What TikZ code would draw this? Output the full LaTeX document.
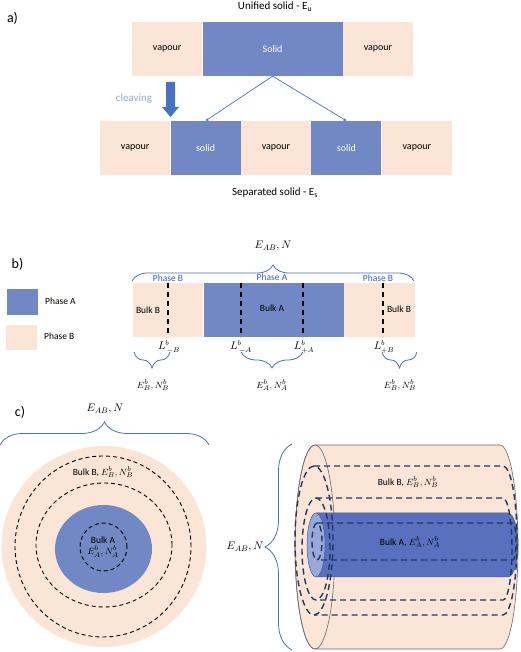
\documentclass[tikz,border=0pt]{standalone}
\usepackage{fontspec}
\setmainfont{Carlito}
\usepackage{amsmath}
\usepackage{xcolor}
\definecolor{phase-blue}{RGB}{113,136,196}
\definecolor{phase-pink}{RGB}{251,229,214}
\definecolor{accent-blue}{RGB}{68,114,196}
\definecolor{accent-light}{RGB}{143,170,220}
\definecolor{label-blue}{RGB}{62,94,168}
\definecolor{navy-dark}{RGB}{32,56,100}
\definecolor{core-blue}{RGB}{88,112,190}
\definecolor{core-face}{RGB}{150,168,220}
\definecolor{rim-gray}{RGB}{105,105,115}
\usetikzlibrary{positioning,decorations.pathreplacing,arrows.meta}

\begin{document}
\begin{tikzpicture}[
    x=1pt, y=1pt,
    every node/.style={inner sep=0pt},
    txt/.style={font=\fontsize{9.5}{11}\selectfont},
    sym/.style={font=\fontsize{10.5}{12}\selectfont},
    big/.style={font=\fontsize{11}{13}\selectfont},
    mathlbl/.style={font=\fontsize{11}{13}\selectfont},
    tag/.style={font=\fontsize{14}{16}\selectfont},
    cell/.style={minimum width=70pt, minimum height=54pt, font=\fontsize{10}{12}\selectfont},
    vapourcell/.style={cell, fill=phase-pink},
    solidcell/.style={cell, fill=phase-blue, text=white},
    slab/.style={minimum height=54pt, fill=#1},
    curly/.style={accent-blue, line width=0.8pt, decorate,
        decoration={brace, amplitude=#1}},
    cutline/.style={black, line width=1.6pt, dash pattern=on 5pt off 4pt},
    ringline/.style={black, line width=0.9pt, dash pattern=on 4pt off 3pt},
    tubeline/.style={navy-dark, line width=1.4pt, dash pattern=on 6pt off 4pt}
]
\useasboundingbox (0,0) rectangle (520,652);

% ---------- a) ----------
\node[tag] (tagA) at (12.5,634) {a)};
\node[big] (titleU) at (275,645.5) {Unified solid - E\textsubscript{u}};

% Unified row
\node[vapourcell, anchor=west] (vapTopL) at (132,603) {vapour};
\node[solidcell, minimum width=140pt, right=0pt of vapTopL] (solidTop) {Solid};
\node[vapourcell, right=0pt of solidTop] (vapTopR) {vapour};

% Separated row
\node[vapourcell, anchor=west] (vapBot1) at (100,504) {vapour};
\node[solidcell, right=0pt of vapBot1] (solidBot1) {solid};
\node[vapourcell, right=0pt of solidBot1] (vapBot2) {vapour};
\node[solidcell, right=0pt of vapBot2] (solidBot2) {solid};
\node[vapourcell, right=0pt of solidBot2] (vapBot3) {vapour};

\node[big] (titleS) at (275,459) {Separated solid - E\textsubscript{s}};

% Cleaving arrow
\fill[accent-blue] (166,570) -- (175,570) -- (175,545) -- (179,545)
    -- (170.5,535) -- (162,545) -- (166,545) -- cycle;
\node[big, text=accent-light] (cleave) at (134,553.5) {cleaving};

\draw[accent-blue, line width=0.7pt, -{Stealth[length=3pt,width=3pt]}]
    (solidTop.south) -- (solidBot1.north);
\draw[accent-blue, line width=0.7pt, -{Stealth[length=3pt,width=3pt]}]
    (solidTop.south) -- (solidBot2.north);

% ---------- b) ----------
\node[tag] (tagB) at (17.5,388) {b)};

% Legend
\node[fill=phase-blue, minimum width=31pt, minimum height=26pt] (keyA) at (22.5,350) {};
\node[txt, anchor=west] (keyAtext) at (45,351) {Phase A};
\node[fill=phase-pink, minimum width=31pt, minimum height=25pt] (keyB) at (21.5,314.5) {};
\node[txt, anchor=west] (keyBtext) at (44,316) {Phase B};

% Slab
\node[slab=phase-pink, minimum width=70pt, anchor=west] (slabBL) at (133,342) {};
\node[slab=phase-blue, minimum width=140pt, right=0pt of slabBL] (slabA) {};
\node[slab=phase-pink, minimum width=71pt, right=0pt of slabA] (slabBR) {};

\node[txt] (bulkBL) at (148,342) {Bulk B};
\node[txt] (bulkA) at (272,344) {Bulk A};
\node[txt] (bulkBR) at (399,343) {Bulk B};

\node[txt, text=label-blue] (phaseBL) at (168,374) {Phase B};
\node[txt, text=label-blue] (phaseA) at (272,375) {Phase A};
\node[txt, text=label-blue] (phaseBR) at (378,374) {Phase B};

% Dividing surfaces
\foreach \cx in {168,241,303,383}
    \draw[cutline] (\cx,369) -- (\cx,315);

\node[sym] (lowB) at (169,305) {$L^{b}_{\,-B}$};
\node[sym] (lowA) at (241,305) {$L^{b}_{\,-A}$};
\node[sym] (highA) at (304,305) {$L^{b}_{+A}$};
\node[sym] (highB) at (384,305) {$L^{b}_{+B}$};

% Braces
\draw[curly=16] (132,371) -- (414,371);
\node[mathlbl] (eSlab) at (273,406) {$E_{AB}, N$};

\draw[curly=16] (170,300) -- (134,300);
\draw[curly=16] (303,300) -- (241,300);
\draw[curly=16] (417,300) -- (382,300);
\node[txt] (eBL) at (153,267) {$E^b_B, N^b_B$};
\node[txt] (eA) at (272,267) {$E^b_A, N^b_A$};
\node[txt] (eBR) at (400,267) {$E^b_B, N^b_B$};

% ---------- c) ----------
\node[tag] (tagC) at (20,239.5) {c)};
\node[mathlbl] (eDisk) at (105,243) {$E_{AB}, N$};
\draw[curly=23] (0,207) -- (209,207);

% Disk
\fill[phase-pink] (104,105.5) ellipse (102.5 and 100.5);
\draw[ringline] (103,105.5) ellipse (88 and 90.5);
\draw[ringline] (104,107) ellipse (68 and 62);
\fill[phase-blue] (103.5,103) ellipse (48.5 and 44);
\draw[ringline] (103.5,105) ellipse (23.5 and 24);
\node[txt] (diskB) at (103,180) {Bulk B, $E^b_B, N^b_B$};
\node[txt, align=center] (diskA) at (103,105) {Bulk A\\$E^b_A, N^b_A$};

% Cylinder
\filldraw[fill=phase-pink, draw=rim-gray, line width=0.6pt]
    (315,207) -- (500,207) arc[start angle=90, end angle=-90, x radius=18, y radius=102]
    -- (315,3) arc[start angle=270, end angle=90, x radius=20, y radius=102] -- cycle;
\draw[rim-gray, line width=0.6pt] (315,105) ellipse (20 and 102);

\filldraw[fill=core-blue, draw=core-blue!80!black, line width=0.5pt]
    (316,139) -- (508,139) arc[start angle=90, end angle=-90, x radius=10, y radius=32]
    -- (316,75) -- cycle;
\filldraw[fill=core-face, draw=core-blue!80!black, line width=0.5pt]
    (316,107) ellipse (9 and 32);

\draw[tubeline] (314,111.5) ellipse (19 and 74.5);
\draw[tubeline] (314,186) -- (503,186)
    arc[start angle=90, end angle=-90, x radius=14, y radius=74.5] -- (314,37);
\draw[tubeline] (316,103) ellipse (14 and 51);
\draw[tubeline] (316,154) -- (503,154)
    arc[start angle=90, end angle=-90, x radius=9, y radius=51] -- (316,52);
\draw[tubeline] (317,110.5) ellipse (5 and 18.5);
\draw[tubeline] (317,129) -- (513,129)
    arc[start angle=90, end angle=-90, x radius=3, y radius=18.5] -- (317,92);

\node[txt] (tubeB) at (408,170) {Bulk B, $E^b_B, N^b_B$};
\node[txt] (tubeA) at (410,110) {Bulk A, $E^b_A, N^b_A$};

\draw[curly=27] (292,2) -- (292,208);
\node[mathlbl] (eTube) at (245,105) {$E_{AB}, N$};

\end{tikzpicture}
\end{document}
